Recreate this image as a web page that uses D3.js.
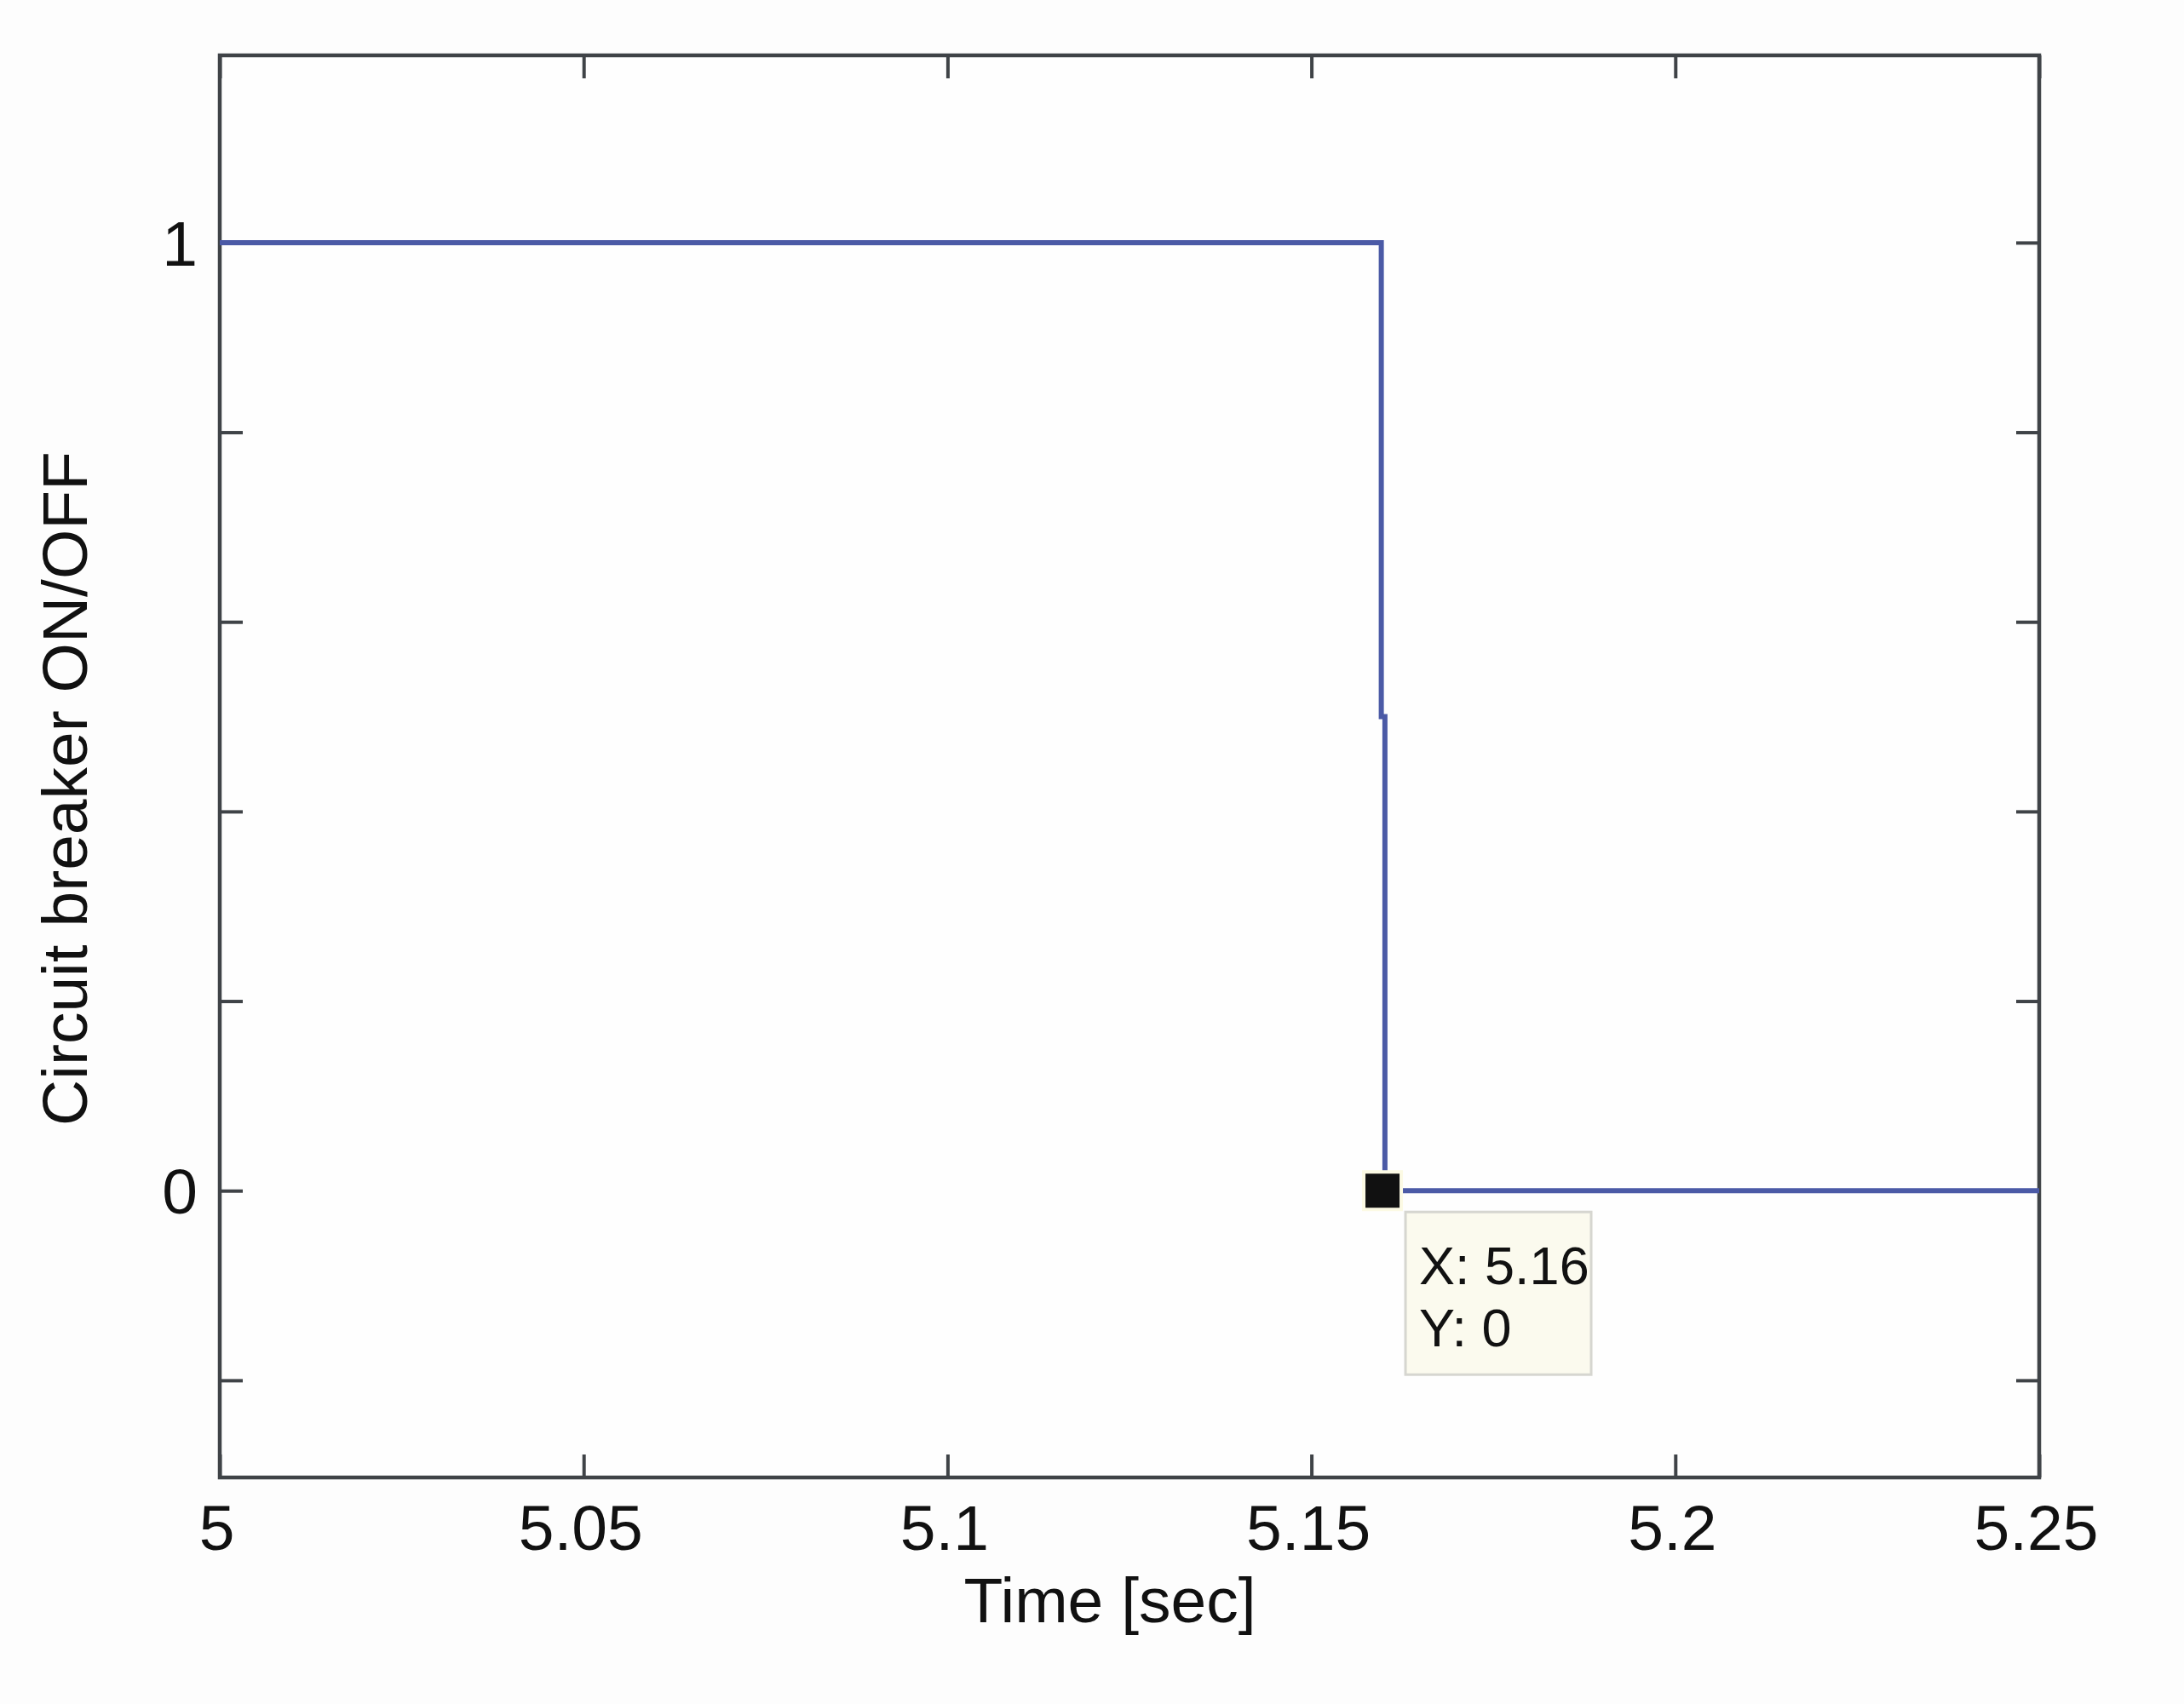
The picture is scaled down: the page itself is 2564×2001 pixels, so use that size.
<!DOCTYPE html>
<html>
<head>
<meta charset="UTF-8">
<title>Circuit breaker ON/OFF</title>
<script src="https://d3js.org/d3.v7.min.js"></script>
<style>
    body {
        margin: 0;
        padding: 0;
        background-color: #fdfdfd;
        font-family: "Liberation Sans", Arial, sans-serif;
    }
    .frame line, .frame rect {
        stroke: #3f4347;
    }
    text {
        fill: #111;
    }
</style>
</head>
<body>
<div id="chart"></div>
<script>
    // breaker signal (time in sec, state)
    var time  = [5, 5.1596, 5.1596, 5.1601, 5.1601, 5.25];
    var state = [1, 1, 0.5, 0.5, 0, 0];

    var xTicks = [5, 5.05, 5.1, 5.15, 5.2, 5.25];
    var xTickLabels = ["5", "5.05", "5.1", "5.15", "5.2", "5.25"];
    var yTicks = [-0.2, 0, 0.2, 0.4, 0.6, 0.8, 1];
    var yTickLabels = ["", "0", "", "", "", "", "1"];

    // data tip
    var tipPoint = {x: 5.16, y: 0};
    var tipLines = ["X: 5.16", "Y: 0"];

    var W = 2564, H = 2001;
    var margin = {top: 65, right: 170, bottom: 266, left: 258},
        width = W - margin.left - margin.right,
        height = H - margin.top - margin.bottom;

    var x = d3.scaleLinear().domain([5, 5.25]).range([0, width]);
    var y = d3.scaleLinear().domain([-0.3025, 1.1975]).range([height, 0]);

    var svg = d3.select("#chart").append("svg")
        .attr("width", W)
        .attr("height", H);

    var g = svg.append("g")
        .attr("transform", "translate(" + margin.left + "," + margin.top + ")");

    g.append("rect")
        .attr("width", width)
        .attr("height", height)
        .attr("fill", "#fefefe");

    var tickLen = 27;
    var frame = g.append("g").attr("class", "frame");

    // inward ticks, bottom and top
    var xAxisBottom = d3.axisBottom(x).tickValues(xTicks).tickSizeInner(-tickLen).tickSizeOuter(0)
        .tickFormat(function(d, i) { return xTickLabels[i]; });
    var xAxisTop = d3.axisTop(x).tickValues(xTicks).tickSizeInner(-tickLen).tickSizeOuter(0)
        .tickFormat("");
    var yAxisLeft = d3.axisLeft(y).tickValues(yTicks).tickSizeInner(-tickLen).tickSizeOuter(0)
        .tickFormat(function(d, i) { return yTickLabels[i]; });
    var yAxisRight = d3.axisRight(y).tickValues(yTicks).tickSizeInner(-tickLen).tickSizeOuter(0)
        .tickFormat("");

    function styleAxis(sel) {
        sel.select(".domain").remove();
        sel.selectAll(".tick line").attr("stroke", "#3f4347").attr("stroke-width", 4);
        sel.selectAll(".tick text")
            .attr("font-family", "'Liberation Sans', Arial, sans-serif")
            .attr("font-size", 75)
            .attr("fill", "#111");
    }

    g.append("g").attr("transform", "translate(0," + height + ")").call(xAxisBottom).call(styleAxis)
        .selectAll(".tick text").attr("dy", 0).attr("y", 85).attr("dx", -4);
    g.append("g").call(xAxisTop).call(styleAxis);
    g.append("g").call(yAxisLeft).call(styleAxis)
        .selectAll(".tick text").attr("x", -26).attr("dy", "0.35em");
    g.append("g").attr("transform", "translate(" + width + ",0)").call(yAxisRight).call(styleAxis);

    // box
    frame.append("rect")
        .attr("width", width)
        .attr("height", height)
        .attr("fill", "none")
        .attr("stroke-width", 4.5);

    // signal
    var pts = time.map(function(t, i) { return [t, state[i]]; });
    var line = d3.line()
        .x(function(d) { return x(d[0]); })
        .y(function(d) { return y(d[1]); });

    g.append("path")
        .datum(pts)
        .attr("d", line)
        .attr("fill", "none")
        .attr("stroke", "#4b5aa6")
        .attr("stroke-width", 6);

    // data tip marker
    var mx = x(tipPoint.x) - 2, my = y(tipPoint.y);
    g.append("rect")
        .attr("x", mx - 24).attr("y", my - 24)
        .attr("width", 48).attr("height", 48)
        .attr("fill", "#fcfae4");
    g.append("rect")
        .attr("x", mx - 20).attr("y", my - 20)
        .attr("width", 40).attr("height", 40)
        .attr("fill", "#111");

    var tip = g.append("g").attr("transform", "translate(" + (mx + 27) + "," + (my + 25) + ")");
    tip.append("rect")
        .attr("width", 218)
        .attr("height", 191)
        .attr("fill", "#fbfaee")
        .attr("stroke", "#d6d6d0")
        .attr("stroke-width", 3);
    tip.selectAll("text.tipline")
        .data(tipLines)
        .enter().append("text")
        .attr("class", "tipline")
        .attr("x", 16)
        .attr("y", function(d, i) { return 85 + i * 73; })
        .attr("font-size", 63)
        .text(function(d) { return d; });

    // axis labels
    svg.append("text")
        .attr("x", 1303)
        .attr("y", 1905)
        .attr("text-anchor", "middle")
        .attr("font-size", 75)
        .text("Time [sec]");

    svg.append("text")
        .attr("transform", "translate(102," + 926 + ") rotate(-90)")
        .attr("text-anchor", "middle")
        .attr("font-size", 75)
        .text("Circuit breaker ON/OFF");
</script>
</body>
</html>
